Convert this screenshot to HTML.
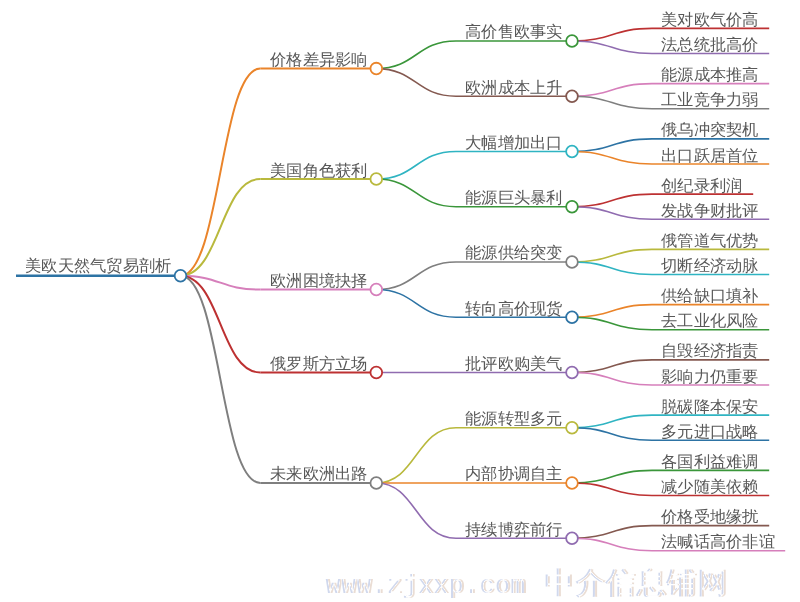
<!DOCTYPE html>
<html><head><meta charset="utf-8"><style>
html,body{margin:0;padding:0;background:#fff;width:800px;height:602px;overflow:hidden;position:relative}
#w{position:absolute;left:0;top:0;width:800px;height:602px;filter:blur(0.3px)}
body{font-family:"Liberation Sans",sans-serif}
svg{position:absolute;left:0;top:0}
.t{position:absolute;font-size:16px;line-height:20px;white-space:nowrap;color:#585858;transform:scaleX(1.018);transform-origin:0 0}
.wm{position:absolute;white-space:nowrap;color:#fff;text-shadow:-1px 0 rgba(110,140,220,.7),1px 0 rgba(220,150,110,.7)}
</style></head><body><div id="w">
<svg width="800" height="602" viewBox="0 0 800 602"><g fill="none">
<path d="M180.50,275.76C220.40,275.76 220.40,68.58 260.30,68.58" stroke="#ea842a" stroke-width="2.0"/>
<path d="M376.30,68.58C416.15,68.58 416.15,40.96 456.00,40.96" stroke="#3a963a" stroke-width="1.6"/>
<path d="M572.00,40.96C612.00,40.96 612.00,28.40 652.00,28.40" stroke="#bd3132" stroke-width="1.6"/>
<path d="M572.00,40.96C612.00,40.96 612.00,53.51 652.00,53.51" stroke="#906cb0" stroke-width="1.6"/>
<path d="M376.30,68.58C416.15,68.58 416.15,96.20 456.00,96.20" stroke="#845950" stroke-width="1.6"/>
<path d="M572.00,96.20C612.00,96.20 612.00,83.65 652.00,83.65" stroke="#d67fbb" stroke-width="1.6"/>
<path d="M572.00,96.20C612.00,96.20 612.00,108.76 652.00,108.76" stroke="#7f7f7f" stroke-width="1.6"/>
<path d="M180.50,275.76C220.40,275.76 220.40,179.07 260.30,179.07" stroke="#b9b93d" stroke-width="2.0"/>
<path d="M376.30,179.07C416.15,179.07 416.15,151.45 456.00,151.45" stroke="#2fb4c2" stroke-width="1.6"/>
<path d="M572.00,151.45C612.00,151.45 612.00,138.89 652.00,138.89" stroke="#2d73a4" stroke-width="1.6"/>
<path d="M572.00,151.45C612.00,151.45 612.00,164.01 652.00,164.01" stroke="#ea842a" stroke-width="1.6"/>
<path d="M376.30,179.07C416.15,179.07 416.15,206.70 456.00,206.70" stroke="#3a963a" stroke-width="1.6"/>
<path d="M572.00,206.70C612.00,206.70 612.00,194.14 652.00,194.14" stroke="#bd3132" stroke-width="1.6"/>
<path d="M572.00,206.70C612.00,206.70 612.00,219.25 652.00,219.25" stroke="#906cb0" stroke-width="1.6"/>
<path d="M180.50,275.76C220.40,275.76 220.40,289.57 260.30,289.57" stroke="#d67fbb" stroke-width="2.0"/>
<path d="M376.30,289.57C416.15,289.57 416.15,261.95 456.00,261.95" stroke="#7f7f7f" stroke-width="1.6"/>
<path d="M572.00,261.95C612.00,261.95 612.00,249.39 652.00,249.39" stroke="#b9b93d" stroke-width="1.6"/>
<path d="M572.00,261.95C612.00,261.95 612.00,274.50 652.00,274.50" stroke="#2fb4c2" stroke-width="1.6"/>
<path d="M376.30,289.57C416.15,289.57 416.15,317.19 456.00,317.19" stroke="#2d73a4" stroke-width="1.6"/>
<path d="M572.00,317.19C612.00,317.19 612.00,304.64 652.00,304.64" stroke="#ea842a" stroke-width="1.6"/>
<path d="M572.00,317.19C612.00,317.19 612.00,329.75 652.00,329.75" stroke="#3a963a" stroke-width="1.6"/>
<path d="M180.50,275.76C220.40,275.76 220.40,372.44 260.30,372.44" stroke="#bd3132" stroke-width="2.0"/>
<path d="M376.30,372.44C416.15,372.44 416.15,372.44 456.00,372.44" stroke="#906cb0" stroke-width="1.6"/>
<path d="M572.00,372.44C612.00,372.44 612.00,359.88 652.00,359.88" stroke="#845950" stroke-width="1.6"/>
<path d="M572.00,372.44C612.00,372.44 612.00,385.00 652.00,385.00" stroke="#d67fbb" stroke-width="1.6"/>
<path d="M180.50,275.76C220.40,275.76 220.40,482.94 260.30,482.94" stroke="#7f7f7f" stroke-width="2.0"/>
<path d="M376.30,482.94C416.15,482.94 416.15,427.69 456.00,427.69" stroke="#b9b93d" stroke-width="1.6"/>
<path d="M572.00,427.69C612.00,427.69 612.00,415.13 652.00,415.13" stroke="#2fb4c2" stroke-width="1.6"/>
<path d="M572.00,427.69C612.00,427.69 612.00,440.24 652.00,440.24" stroke="#2d73a4" stroke-width="1.6"/>
<path d="M376.30,482.94C416.15,482.94 416.15,482.94 456.00,482.94" stroke="#ea842a" stroke-width="1.6"/>
<path d="M572.00,482.94C612.00,482.94 612.00,470.38 652.00,470.38" stroke="#3a963a" stroke-width="1.6"/>
<path d="M572.00,482.94C612.00,482.94 612.00,495.49 652.00,495.49" stroke="#bd3132" stroke-width="1.6"/>
<path d="M376.30,482.94C416.15,482.94 416.15,538.18 456.00,538.18" stroke="#906cb0" stroke-width="1.6"/>
<path d="M572.00,538.18C612.00,538.18 612.00,525.63 652.00,525.63" stroke="#845950" stroke-width="1.6"/>
<path d="M572.00,538.18C612.00,538.18 612.00,550.74 652.00,550.74" stroke="#d67fbb" stroke-width="1.6"/>
<line x1="16.00" y1="275.76" x2="180.50" y2="275.76" stroke="#2d73a4" stroke-width="2.3"/>
<line x1="260.30" y1="68.58" x2="376.30" y2="68.58" stroke="#ea842a" stroke-width="2.0"/>
<line x1="456.00" y1="40.96" x2="572.00" y2="40.96" stroke="#3a963a" stroke-width="1.6"/>
<line x1="652.00" y1="28.40" x2="769.20" y2="28.40" stroke="#bd3132" stroke-width="1.6"/>
<line x1="652.00" y1="53.51" x2="769.20" y2="53.51" stroke="#906cb0" stroke-width="1.6"/>
<line x1="456.00" y1="96.20" x2="572.00" y2="96.20" stroke="#845950" stroke-width="1.6"/>
<line x1="652.00" y1="83.65" x2="769.20" y2="83.65" stroke="#d67fbb" stroke-width="1.6"/>
<line x1="652.00" y1="108.76" x2="769.20" y2="108.76" stroke="#7f7f7f" stroke-width="1.6"/>
<line x1="260.30" y1="179.07" x2="376.30" y2="179.07" stroke="#b9b93d" stroke-width="2.0"/>
<line x1="456.00" y1="151.45" x2="572.00" y2="151.45" stroke="#2fb4c2" stroke-width="1.6"/>
<line x1="652.00" y1="138.89" x2="769.20" y2="138.89" stroke="#2d73a4" stroke-width="1.6"/>
<line x1="652.00" y1="164.01" x2="769.20" y2="164.01" stroke="#ea842a" stroke-width="1.6"/>
<line x1="456.00" y1="206.70" x2="572.00" y2="206.70" stroke="#3a963a" stroke-width="1.6"/>
<line x1="652.00" y1="194.14" x2="753.20" y2="194.14" stroke="#bd3132" stroke-width="1.6"/>
<line x1="652.00" y1="219.25" x2="769.20" y2="219.25" stroke="#906cb0" stroke-width="1.6"/>
<line x1="260.30" y1="289.57" x2="376.30" y2="289.57" stroke="#d67fbb" stroke-width="2.0"/>
<line x1="456.00" y1="261.95" x2="572.00" y2="261.95" stroke="#7f7f7f" stroke-width="1.6"/>
<line x1="652.00" y1="249.39" x2="769.20" y2="249.39" stroke="#b9b93d" stroke-width="1.6"/>
<line x1="652.00" y1="274.50" x2="769.20" y2="274.50" stroke="#2fb4c2" stroke-width="1.6"/>
<line x1="456.00" y1="317.19" x2="572.00" y2="317.19" stroke="#2d73a4" stroke-width="1.6"/>
<line x1="652.00" y1="304.64" x2="769.20" y2="304.64" stroke="#ea842a" stroke-width="1.6"/>
<line x1="652.00" y1="329.75" x2="769.20" y2="329.75" stroke="#3a963a" stroke-width="1.6"/>
<line x1="260.30" y1="372.44" x2="376.30" y2="372.44" stroke="#bd3132" stroke-width="2.0"/>
<line x1="456.00" y1="372.44" x2="572.00" y2="372.44" stroke="#906cb0" stroke-width="1.6"/>
<line x1="652.00" y1="359.88" x2="769.20" y2="359.88" stroke="#845950" stroke-width="1.6"/>
<line x1="652.00" y1="385.00" x2="769.20" y2="385.00" stroke="#d67fbb" stroke-width="1.6"/>
<line x1="260.30" y1="482.94" x2="376.30" y2="482.94" stroke="#7f7f7f" stroke-width="2.0"/>
<line x1="456.00" y1="427.69" x2="572.00" y2="427.69" stroke="#b9b93d" stroke-width="1.6"/>
<line x1="652.00" y1="415.13" x2="769.20" y2="415.13" stroke="#2fb4c2" stroke-width="1.6"/>
<line x1="652.00" y1="440.24" x2="769.20" y2="440.24" stroke="#2d73a4" stroke-width="1.6"/>
<line x1="456.00" y1="482.94" x2="572.00" y2="482.94" stroke="#ea842a" stroke-width="1.6"/>
<line x1="652.00" y1="470.38" x2="769.20" y2="470.38" stroke="#3a963a" stroke-width="1.6"/>
<line x1="652.00" y1="495.49" x2="769.20" y2="495.49" stroke="#bd3132" stroke-width="1.6"/>
<line x1="456.00" y1="538.18" x2="572.00" y2="538.18" stroke="#906cb0" stroke-width="1.6"/>
<line x1="652.00" y1="525.63" x2="769.20" y2="525.63" stroke="#845950" stroke-width="1.6"/>
<line x1="652.00" y1="550.74" x2="785.20" y2="550.74" stroke="#d67fbb" stroke-width="1.6"/>
<circle cx="180.50" cy="275.76" r="5.85" stroke="#2d73a4" stroke-width="1.8" fill="#fff"/>
<circle cx="376.30" cy="68.58" r="5.85" stroke="#ea842a" stroke-width="1.8" fill="#fff"/>
<circle cx="572.00" cy="40.96" r="5.85" stroke="#3a963a" stroke-width="1.8" fill="#fff"/>
<circle cx="572.00" cy="96.20" r="5.85" stroke="#845950" stroke-width="1.8" fill="#fff"/>
<circle cx="376.30" cy="179.07" r="5.85" stroke="#b9b93d" stroke-width="1.8" fill="#fff"/>
<circle cx="572.00" cy="151.45" r="5.85" stroke="#2fb4c2" stroke-width="1.8" fill="#fff"/>
<circle cx="572.00" cy="206.70" r="5.85" stroke="#3a963a" stroke-width="1.8" fill="#fff"/>
<circle cx="376.30" cy="289.57" r="5.85" stroke="#d67fbb" stroke-width="1.8" fill="#fff"/>
<circle cx="572.00" cy="261.95" r="5.85" stroke="#7f7f7f" stroke-width="1.8" fill="#fff"/>
<circle cx="572.00" cy="317.19" r="5.85" stroke="#2d73a4" stroke-width="1.8" fill="#fff"/>
<circle cx="376.30" cy="372.44" r="5.85" stroke="#bd3132" stroke-width="1.8" fill="#fff"/>
<circle cx="572.00" cy="372.44" r="5.85" stroke="#906cb0" stroke-width="1.8" fill="#fff"/>
<circle cx="376.30" cy="482.94" r="5.85" stroke="#7f7f7f" stroke-width="1.8" fill="#fff"/>
<circle cx="572.00" cy="427.69" r="5.85" stroke="#b9b93d" stroke-width="1.8" fill="#fff"/>
<circle cx="572.00" cy="482.94" r="5.85" stroke="#ea842a" stroke-width="1.8" fill="#fff"/>
<circle cx="572.00" cy="538.18" r="5.85" stroke="#906cb0" stroke-width="1.8" fill="#fff"/>
</g></svg>
<div class="t" style="left:25.40px;top:256.46px">美欧天然气贸易剖析</div>
<div class="t" style="left:269.70px;top:50.08px">价格差异影响</div>
<div class="t" style="left:465.40px;top:22.46px">高价售欧事实</div>
<div class="t" style="left:661.40px;top:9.90px">美对欧气价高</div>
<div class="t" style="left:661.40px;top:35.01px">法总统批高价</div>
<div class="t" style="left:465.40px;top:77.70px">欧洲成本上升</div>
<div class="t" style="left:661.40px;top:65.15px">能源成本推高</div>
<div class="t" style="left:661.40px;top:90.26px">工业竞争力弱</div>
<div class="t" style="left:269.70px;top:160.57px">美国角色获利</div>
<div class="t" style="left:465.40px;top:132.95px">大幅增加出口</div>
<div class="t" style="left:661.40px;top:120.39px">俄乌冲突契机</div>
<div class="t" style="left:661.40px;top:145.51px">出口跃居首位</div>
<div class="t" style="left:465.40px;top:188.20px">能源巨头暴利</div>
<div class="t" style="left:661.40px;top:175.64px">创纪录利润</div>
<div class="t" style="left:661.40px;top:200.75px">发战争财批评</div>
<div class="t" style="left:269.70px;top:271.07px">欧洲困境抉择</div>
<div class="t" style="left:465.40px;top:243.45px">能源供给突变</div>
<div class="t" style="left:661.40px;top:230.89px">俄管道气优势</div>
<div class="t" style="left:661.40px;top:256.00px">切断经济动脉</div>
<div class="t" style="left:465.40px;top:298.69px">转向高价现货</div>
<div class="t" style="left:661.40px;top:286.14px">供给缺口填补</div>
<div class="t" style="left:661.40px;top:311.25px">去工业化风险</div>
<div class="t" style="left:269.70px;top:353.94px">俄罗斯方立场</div>
<div class="t" style="left:465.40px;top:353.94px">批评欧购美气</div>
<div class="t" style="left:661.40px;top:341.38px">自毁经济指责</div>
<div class="t" style="left:661.40px;top:366.50px">影响力仍重要</div>
<div class="t" style="left:269.70px;top:464.44px">未来欧洲出路</div>
<div class="t" style="left:465.40px;top:409.19px">能源转型多元</div>
<div class="t" style="left:661.40px;top:396.63px">脱碳降本保安</div>
<div class="t" style="left:661.40px;top:421.74px">多元进口战略</div>
<div class="t" style="left:465.40px;top:464.44px">内部协调自主</div>
<div class="t" style="left:661.40px;top:451.88px">各国利益难调</div>
<div class="t" style="left:661.40px;top:476.99px">减少随美依赖</div>
<div class="t" style="left:465.40px;top:519.68px">持续博弈前行</div>
<div class="t" style="left:661.40px;top:507.13px">价格受地缘扰</div>
<div class="t" style="left:661.40px;top:532.24px">法喊话高价非谊</div>
<svg width="800" height="602" style="position:absolute;left:0;top:0">
<defs><filter id="ed" x="-2%" y="-10%" width="104%" height="120%" color-interpolation-filters="sRGB">
<feConvolveMatrix in="SourceAlpha" order="3 1" kernelMatrix="1 0 -1" divisor="1" preserveAlpha="false" result="L"/>
<feConvolveMatrix in="SourceAlpha" order="3 1" kernelMatrix="-1 0 1" divisor="1" preserveAlpha="false" result="R"/>
<feFlood flood-color="rgba(110,135,200,0.32)" result="cb"/><feComposite in="cb" in2="L" operator="in" result="bl"/>
<feFlood flood-color="rgba(190,150,120,0.32)" result="co"/><feComposite in="co" in2="R" operator="in" result="or"/>
<feMerge><feMergeNode in="bl"/><feMergeNode in="or"/></feMerge>
</filter></defs>
<g filter="url(#ed)" fill="#000">
<text x="326.5" y="592.5" font-family="Liberation Mono" font-size="25" letter-spacing="0.4">www.zjxxp.com</text>
<text x="545" y="593" font-family="Liberation Sans" font-size="30" letter-spacing="0.5">中介信息铺网</text>
</g></svg>
</div></body></html>
